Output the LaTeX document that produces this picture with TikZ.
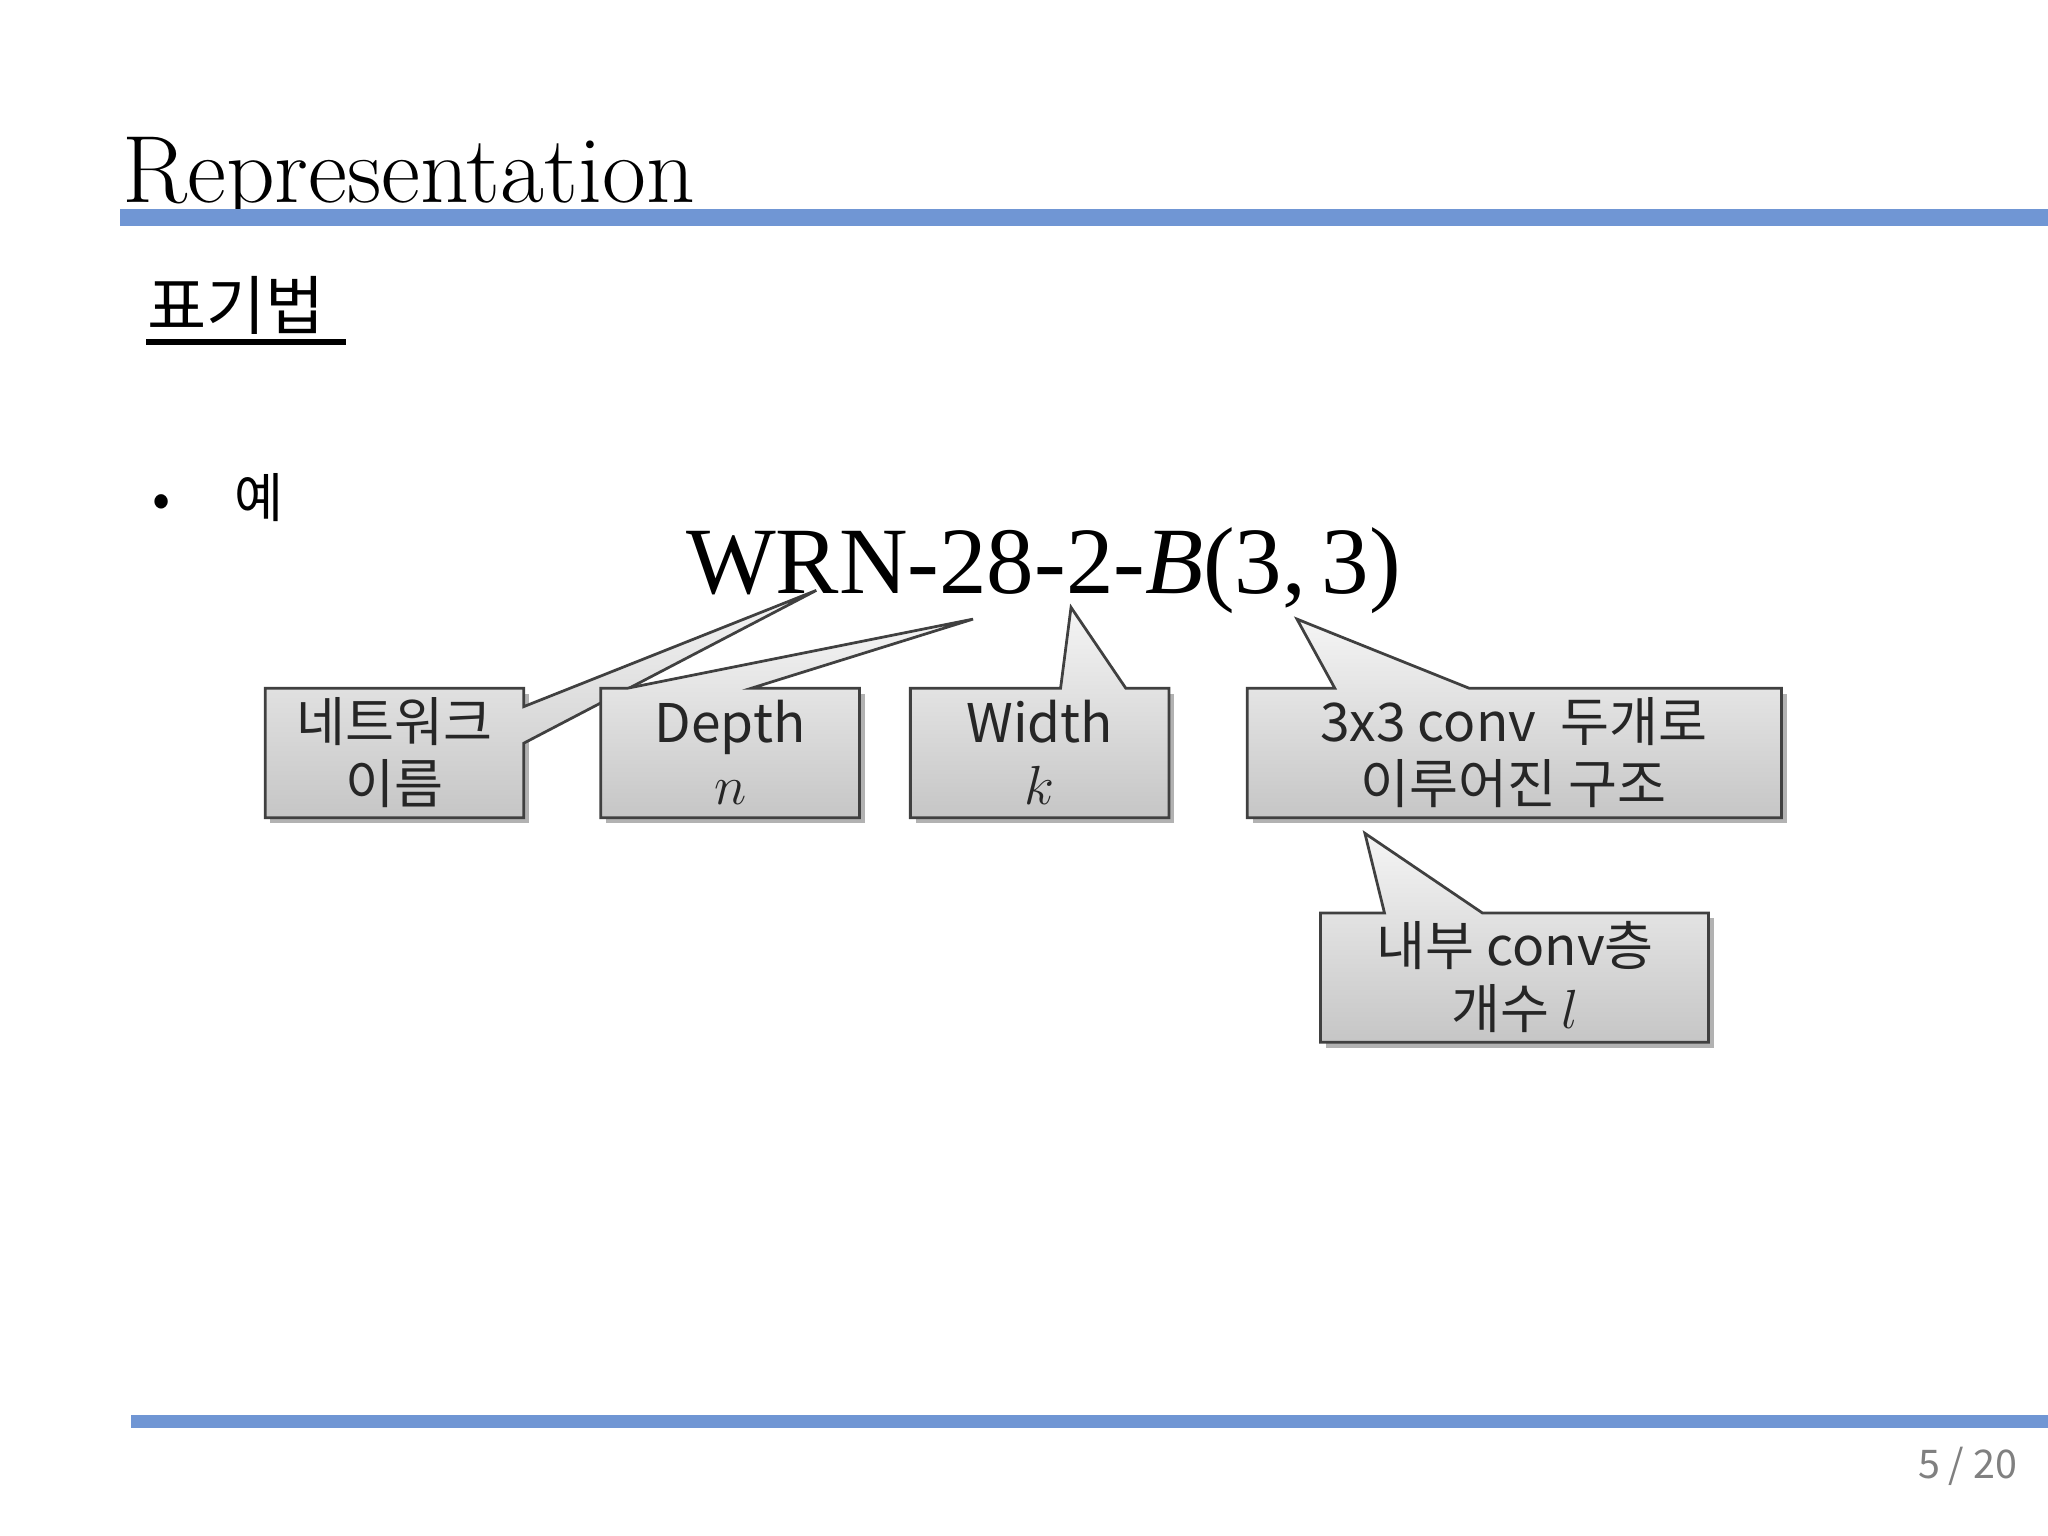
\documentclass[tikz,border=0pt]{standalone}
\usepackage{fontspec}
\newfontfamily\kr{Noto Sans CJK KR}
\newfontfamily\tnr{Liberation Serif}
\usetikzlibrary{shadings}
\definecolor{barblue}{RGB}{112,150,212}
\tikzset{
  callout/.style={draw=black!75,line width=0.6pt,top color=gray!8,bottom color=gray!45},
  cshadow/.style={fill=black!30,draw=none},
  ctext/.style={font=\kr\fontsize{11.6}{13.6}\selectfont,align=center,text=black!85},
}
\begin{document}
\begin{tikzpicture}[x=0.1mm,y=-0.1mm]
\useasboundingbox (0,0) rectangle (1568,1176);
\fill[white] (0,0) rectangle (1568,1176);
% title
\node[anchor=base west,inner sep=0,font=\fontsize{20.8}{24}\selectfont] (title) at (93,155) {Representation};
\fill[barblue] (92,160) rectangle (1568,173);
\node[anchor=base west,inner sep=0,font=\kr\fontsize{14}{16}\selectfont] (sub) at (112,252) {표기법};
\draw[line width=1.2pt] (112,262) -- (265,262);
\node[anchor=base west,inner sep=0,font=\kr\fontsize{11.6}{14}\selectfont] (bul) at (116,396) {•\hspace{1.2em}예};
% formula
\node[inner sep=0,font=\tnr\fontsize{20.7}{24}\selectfont] (wrn) at (799,437) {WRN-28-2-\textit{B}(3,\,3)};
% tips
\coordinate (t1) at (625,452);
\coordinate (t2) at (745,474);
\coordinate (t3) at (820,465);
\coordinate (t4) at (993,474);
\coordinate (t5) at (1045,638);
% shadows
\begin{scope}[shift={(4,4)}]
\fill[cshadow] (203,527) rectangle (401,626);
\fill[cshadow] (460,527) rectangle (658,626);
\fill[cshadow] (697,527) rectangle (895,626);
\fill[cshadow] (955,527) rectangle (1364,626);
\fill[cshadow] (1011,699) rectangle (1308,798);
\end{scope}
% callouts
\draw[callout] (203,527) -- (401,527) -- (401,541) -- (t1) -- (401,569) -- (401,626) -- (203,626) -- cycle;
\draw[callout] (460,527) -- (480,527) -- (t2) -- (575,527) -- (658,527) -- (658,626) -- (460,626) -- cycle;
\draw[callout] (697,527) -- (812,527) -- (t3) -- (862,527) -- (895,527) -- (895,626) -- (697,626) -- cycle;
\draw[callout] (955,527) -- (1022,527) -- (t4) -- (1125,527) -- (1364,527) -- (1364,626) -- (955,626) -- cycle;
\draw[callout] (1011,699) -- (1060,699) -- (t5) -- (1135,699) -- (1308,699) -- (1308,798) -- (1011,798) -- cycle;
\node[ctext] (b1) at (302,576) {네트워크\\이름};
\node[ctext] (b2) at (559,576) {Depth\\$n$};
\node[ctext] (b3) at (796,576) {Width\\$k$};
\node[ctext] (b4) at (1159,576) {3x3 conv\ \ 두개로\\이루어진 구조};
\node[ctext] (b5) at (1160,748) {내부 conv층\\개수 $l$};
% bottom
\fill[barblue] (100,1083) rectangle (1568,1093);
\node[anchor=base east,inner sep=0,text=gray,font=\kr\fontsize{8.6}{10}\selectfont] (pg) at (1545,1132) {5 / 20};
\end{tikzpicture}
\end{document}
